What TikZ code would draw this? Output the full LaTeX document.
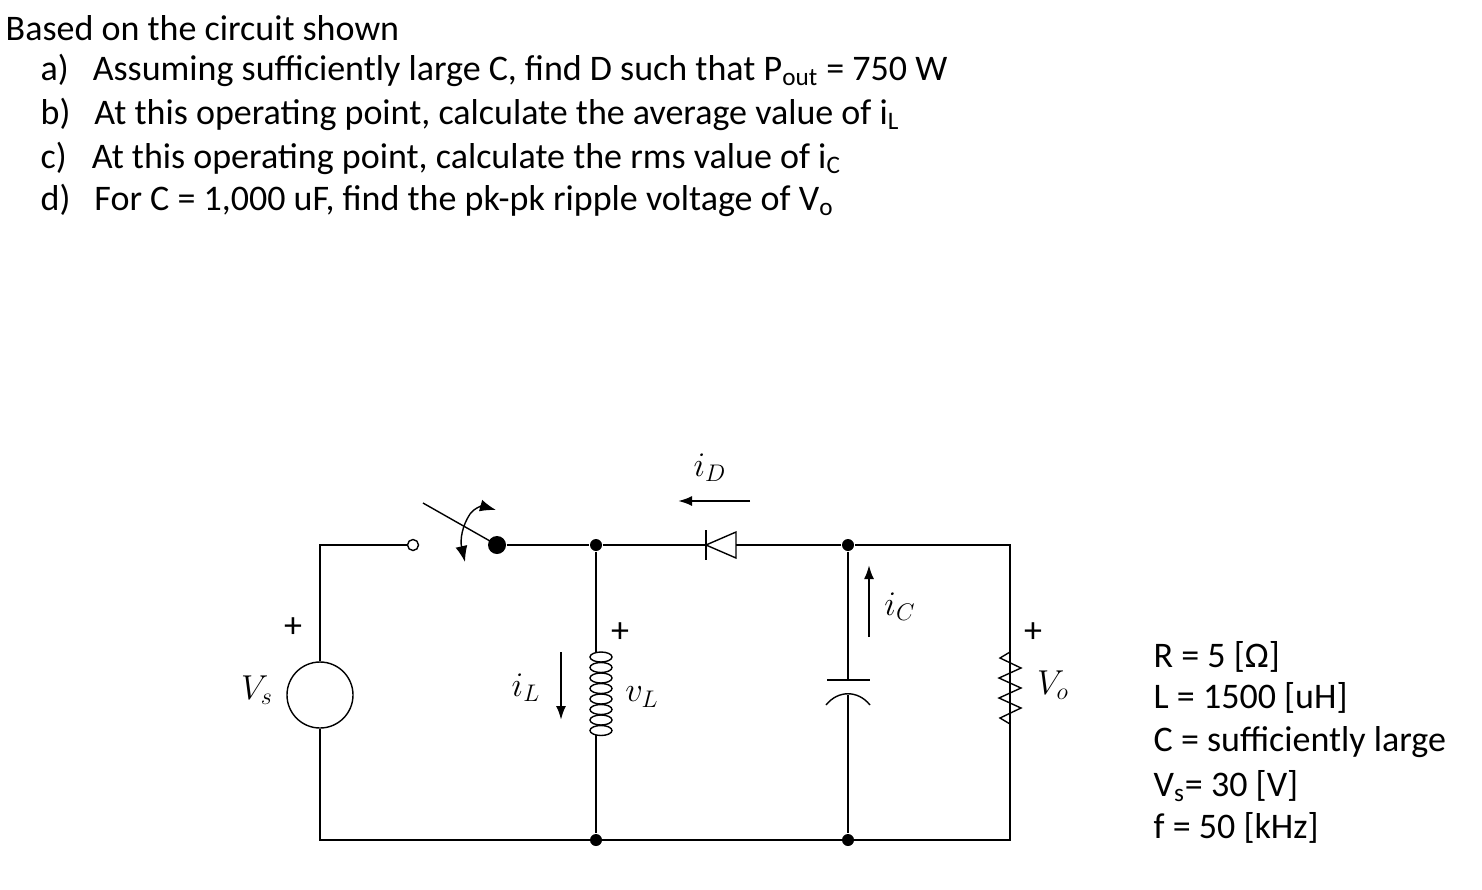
\documentclass[tikz,border=0pt]{standalone}
\usepackage{fontspec}
\setmainfont{Carlito}
\usetikzlibrary{arrows.meta}
\begin{document}
\begin{tikzpicture}[x=0.5pt,y=-0.5pt,line width=0.7pt,
 txt/.style={anchor=west,inner sep=0pt,font=\fontsize{18}{20}\selectfont},
 lab/.style={inner sep=0pt,font=\fontsize{18}{20}\selectfont},
 dot/.style={circle,fill,inner sep=0pt,minimum size=6pt},
 arr/.style={-{Latex[length=7pt,width=5pt]},line width=1.1pt}]
\useasboundingbox (0,0) rectangle (1482,889);
\node[txt] (t0) at (5,28) {Based on the circuit shown};
\node[txt] (ta) at (40,70) {a)\hspace{12pt}Assuming sufficiently large C, find D such that P\textsubscript{out} = 750 W};
\node[txt] (tb) at (40,114) {b)\hspace{12pt}At this operating point, calculate the average value of i\textsubscript{L}};
\node[txt] (tc) at (40,158) {c)\hspace{12.5pt}At this operating point, calculate the rms value of i\textsubscript{C}};
\node[txt] (td) at (40,200) {d)\hspace{12pt}For C = 1,000 uF, find the pk-pk ripple voltage of V\textsubscript{o}};
\node[txt] (r1) at (1153,657) {R = 5 [Ω]};
\node[txt] (r2) at (1153,698) {L = 1500 [uH]};
\node[txt] (r3) at (1153,742) {C = sufficiently large};
\node[txt] (r4) at (1153,786) {V\textsubscript{s}= 30 [V]};
\node[txt] (r5) at (1153,828) {f = 50 [kHz]};
% nodes
\coordinate (tl) at (320,545);
\coordinate (bl) at (320,840);
\node[circle,draw,minimum size=33pt,inner sep=0pt] (vs) at (320,695) {};
\node[circle,draw,fill=white,inner sep=0pt,minimum size=5.5pt] (sw1) at (413,545) {};
\node[circle,fill,inner sep=0pt,minimum size=9pt] (sw2) at (497,545) {};
\node[dot] (n1) at (596,545) {};
\node[dot] (n2) at (848,545) {};
\coordinate (tr) at (1010,545);
\coordinate (br) at (1010,840);
\node[dot] (b1) at (596,840) {};
\node[dot] (b2) at (848,840) {};
% wires
\draw (vs.north) -- (tl) -- (sw1.west);
\draw (vs.south) -- (bl) -- (br) -- (tr) -- (n2) -- (736,545);
\draw (sw2) -- (n1) -- (706,545);
% diode
\draw (706,545) -- (736,532) -- (736,558) -- cycle;
\draw (706,530) -- (706,560);
% switch
\draw (423,503) -- (sw2.center);
\draw[-{Latex[length=8pt,width=6pt]}] (470,514) .. controls (474,508) and (482,506) .. (496,510);
\draw[-{Latex[length=8pt,width=6pt]}] (470,514) .. controls (462,526) and (460,540) .. (465,562);
% inductor
\draw (n1) -- (596,652);
\foreach \k in {0,...,7}{\draw (601,{657+\k*10.5}) ellipse (11 and 5);}
\draw (596,735) -- (b1);
% capacitor
\draw (n2) -- (848,680);
\draw (827,680) -- (870,680);
\draw (826,705) .. controls (838,690) and (858,690) .. (870,705);
\draw (848,695) -- (b2);
% resistor
\draw (1010,545) -- (1010,652) -- (1000,658) -- (1021,668) -- (999,678) -- (1021,688) -- (999,698) -- (1021,708) -- (1000,718) -- (1010,724) -- (1010,840);
% labels
\node[lab] (plus1) at (293,628) {+};
\node[lab] (vsl) at (257,690) {$V_s$};
\node[lab] (il) at (526,688) {$i_L$};
\draw[arr] (561,652) -- (561,720);
\node[lab] (plus2) at (620,633) {+};
\node[lab] (vl) at (642,697) {$v_L$};
\node[lab] (id) at (710,468) {$i_D$};
\draw[arr] (750,501) -- (678,501);
\draw[arr] (869,637) -- (869,565);
\node[lab] (ic) at (900,607) {$i_C$};
\node[lab] (plus3) at (1033,633) {+};
\node[lab] (vo) at (1053,685) {$V_o$};
\end{tikzpicture}
\end{document}
